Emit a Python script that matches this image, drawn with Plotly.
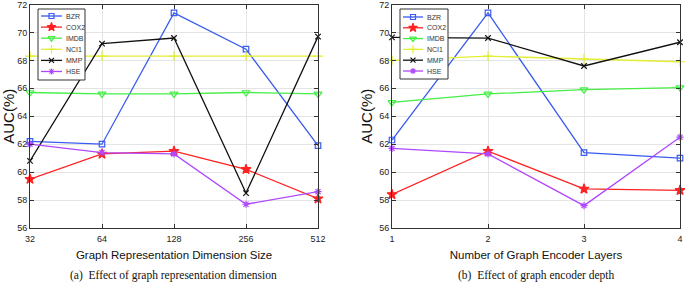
import plotly.graph_objects as go

# ---------------- data ----------------
dims = ["32", "64", "128", "256", "512"]
layers = ["1", "2", "3", "4"]
series_names = ["BZR", "COX2", "IMDB", "NCI1", "MMP", "HSE"]

# (a) effect of representation dimension
a_BZR = [62.2, 62.0, 71.4, 68.8, 61.9]
a_COX2 = [59.5, 61.3, 61.5, 60.2, 58.1]
a_IMDB = [65.7, 65.6, 65.6, 65.7, 65.6]
a_NCI1 = [68.3, 68.3, 68.3, 68.3, 68.3]
a_MMP = [60.8, 69.2, 69.6, 58.5, 69.7]
a_HSE = [62.0, 61.4, 61.3, 57.7, 58.6]

# (b) effect of encoder depth
b_BZR = [62.3, 71.4, 61.4, 61.0]
b_COX2 = [58.4, 61.5, 58.8, 58.7]
b_IMDB = [65.0, 65.6, 65.9, 66.05]
b_NCI1 = [68.0, 68.3, 68.1, 67.9]
b_MMP = [69.65, 69.6, 67.6, 69.3]
b_HSE = [61.7, 61.3, 57.6, 62.5]

y_ticks = [56, 58, 60, 62, 64, 66, 68, 70, 72]

# ---------------- styles ----------------
colors = {"BZR": "#3a5cf0", "COX2": "#ff2222", "IMDB": "#44ee44",
          "NCI1": "#e2ee33", "MMP": "#111111", "HSE": "#b048ff"}
symbols = {"BZR": "square-open", "COX2": "star", "IMDB": "triangle-down-open",
           "NCI1": "cross-thin-open", "MMP": "x-thin-open", "HSE": "asterisk-open"}
msize = {"BZR": 5.5, "COX2": 7.5, "IMDB": 7, "NCI1": 7, "MMP": 5.5, "HSE": 6}
lmsize = {"BZR": 5, "COX2": 6.5, "IMDB": 6, "NCI1": 6, "MMP": 5, "HSE": 5}

a_vals = dict(BZR=a_BZR, COX2=a_COX2, IMDB=a_IMDB, NCI1=a_NCI1, MMP=a_MMP, HSE=a_HSE)
b_vals = dict(BZR=b_BZR, COX2=b_COX2, IMDB=b_IMDB, NCI1=b_NCI1, MMP=b_MMP, HSE=b_HSE)

W, H = 685, 283

fig = go.Figure()


def mk(name, size):
    return dict(symbol=symbols[name], size=size, color=colors[name],
                line=dict(color=colors[name], width=1.2))


for name in series_names:
    fig.add_trace(go.Scatter(x=dims, y=a_vals[name], name=name, mode="lines+markers",
                             line=dict(color=colors[name], width=1.3), marker=mk(name, msize[name]),
                             xaxis="x", yaxis="y", showlegend=False, cliponaxis=False))
for name in series_names:
    fig.add_trace(go.Scatter(x=layers, y=b_vals[name], name=name, mode="lines+markers",
                             line=dict(color=colors[name], width=1.3), marker=mk(name, msize[name]),
                             xaxis="x2", yaxis="y2", showlegend=False, cliponaxis=False))

# ---------------- compact legends (drawn in a hidden pixel-space overlay axis) ----------------
legend_boxes = [
    dict(x0=38, x1=85, y0=9, y1=80, lx0=41, lx1=62, tx=63.5, ys=[16 + 11.1 * i for i in range(6)]),
    dict(x0=400, x1=448, y0=9, y1=79, lx0=403, lx1=423, tx=424.5, ys=[17 + 10.8 * i for i in range(6)]),
]
shapes = []
annotations = []
for lb in legend_boxes:
    shapes.append(dict(type="rect", xref="x3", yref="y3", x0=lb["x0"], x1=lb["x1"],
                       y0=lb["y0"], y1=lb["y1"], line=dict(color="#333333", width=1),
                       fillcolor="white", layer="below"))
for lb in legend_boxes:
    for name, yy in zip(series_names, lb["ys"]):
        fig.add_trace(go.Scatter(x=[lb["lx0"], (lb["lx0"] + lb["lx1"]) / 2, lb["lx1"]], y=[yy, yy, yy],
                                 mode="lines", line=dict(color=colors[name], width=1.3),
                                 xaxis="x3", yaxis="y3", showlegend=False, hoverinfo="skip"))
        fig.add_trace(go.Scatter(x=[(lb["lx0"] + lb["lx1"]) / 2], y=[yy], mode="markers",
                                 marker=mk(name, lmsize[name]), xaxis="x3", yaxis="y3",
                                 showlegend=False, hoverinfo="skip"))
        annotations.append(dict(text=name, x=lb["tx"], y=yy, xref="x3", yref="y3",
                                showarrow=False, xanchor="left", yanchor="middle",
                                font=dict(family="Liberation Sans, Arial", size=7, color="#333333")))

ydom = [(H - 228) / H, (H - 4.5) / H]
axis_common = dict(showline=True, linecolor="#333333", linewidth=1, mirror="ticks",
                   ticks="inside", ticklen=4, tickcolor="#333333", automargin=False,
                   ticklabeloverflow="allow",
                   showgrid=True, gridcolor="#e4e4e4", gridwidth=1, zeroline=False,
                   tickfont=dict(family="Liberation Sans, Arial", size=9, color="#222222"))

title_font = dict(family="Liberation Sans, Arial", size=11.5, color="#111111")
ytitle_font = dict(family="Liberation Sans, Arial", size=15, color="#111111")
cap_font = dict(family="Liberation Serif, Times New Roman", size=11.5, color="#111111")

annotations += [
    dict(text="(a)  Effect of graph representation dimension", x=(30 + 318) / 2 / W,
         y=1 - 275.5 / H, xref="paper", yref="paper", showarrow=False,
         xanchor="center", yanchor="middle", font=cap_font),
    dict(text="(b)  Effect of graph encoder depth", x=(392 + 680) / 2 / W,
         y=1 - 275.5 / H, xref="paper", yref="paper", showarrow=False,
         xanchor="center", yanchor="middle", font=cap_font),
]

fig.update_layout(
    width=W, height=H, margin=dict(l=0, r=0, t=0, b=0, autoexpand=False),
    paper_bgcolor="white", plot_bgcolor="rgba(0,0,0,0)",
    xaxis=dict(domain=[30 / W, 318 / W], type="category", range=[0, 4],
               anchor="y", ticklabelstandoff=2, **axis_common,
               title=dict(text="Graph Representation Dimension Size", standoff=8, font=title_font)),
    yaxis=dict(domain=ydom, range=[56, 72], tickvals=y_ticks, anchor="x", **axis_common,
               title=dict(text="AUC(%)", standoff=2, font=ytitle_font)),
    xaxis2=dict(domain=[392 / W, 680 / W], type="category", range=[0, 3],
                anchor="y2", ticklabelstandoff=2, **axis_common,
                title=dict(text="Number of Graph Encoder Layers", standoff=8, font=title_font)),
    yaxis2=dict(domain=ydom, range=[56, 72], tickvals=y_ticks, anchor="x2", **axis_common,
                title=dict(text="AUC(%)", standoff=2, font=ytitle_font)),
    xaxis3=dict(domain=[0, 1], range=[0, W], visible=False, anchor="y3", fixedrange=True,
                automargin=False),
    yaxis3=dict(domain=[0, 1], range=[H, 0], visible=False, anchor="x3", fixedrange=True,
                automargin=False),
    shapes=shapes,
    annotations=annotations,
)

fig.write_html("out.html", config={"displayModeBar": False},
               post_script="document.body.style.margin='0';document.body.style.overflow='hidden';")
